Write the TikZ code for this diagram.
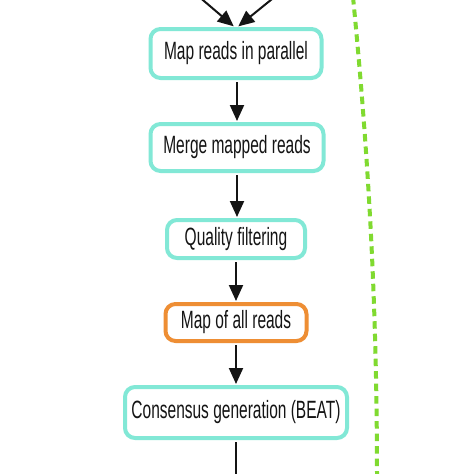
\documentclass[tikz,border=0pt]{standalone}
\usepackage{fontspec}
\setmainfont{Liberation Sans}[FakeStretch=0.62]
\usetikzlibrary{arrows.meta}
\definecolor{turq}{RGB}{130,232,214}
\definecolor{orng}{RGB}{238,142,52}
\definecolor{grn}{RGB}{128,218,48}
\definecolor{ink}{RGB}{20,20,20}
\begin{document}
\begin{tikzpicture}[x=1pt,y=-1pt,
  box/.style={draw=turq, line width=4pt, rounded corners=10pt, fill=white,
    inner sep=0pt, text=ink, font=\fontsize{25}{30}\selectfont},
  obox/.style={box, draw=orng},
  arr/.style={draw=ink, line width=2pt, -{Triangle[length=16pt,width=14pt]},
    shorten >=1pt, shorten <=2pt},
  plain/.style={draw=ink, line width=2pt, shorten <=2pt},
  guide/.style={draw=grn, line width=4pt, dash pattern=on 7.5pt off 5pt}]
\useasboundingbox (0,0) rectangle (474,474);
\fill[white] (0,0) rectangle (474,474);
\begin{scope}
\clip (0,0) rectangle (474,474);
\node[box, minimum width=171pt, minimum height=49pt] (b1) at (236,53.5) {Map reads in parallel};
\node[box, minimum width=173pt, minimum height=47pt] (b2) at (237,147.5) {Merge mapped reads};
\node[box, minimum width=138pt, minimum height=38pt] (b3) at (236,239) {Quality filtering};
\node[obox, minimum width=141pt, minimum height=37pt] (b4) at (236,322.5) {Map of all reads};
\node[box, minimum width=222pt, minimum height=51pt] (b5) at (236,412.5) {Consensus generation (BEAT)};
\coordinate (inL) at (197,-5);
\coordinate (inR) at (277,-5);
\coordinate (outB) at (236,480);
\draw[arr, shorten <=0pt] (inL) -- ([xshift=-1.5pt]b1.north);
\draw[arr, shorten <=0pt] (inR) -- ([xshift=1.5pt]b1.north);
\draw[arr] (b1.south -| b2.north) -- (b2.north);
\draw[arr] (b2.south) -- (b2.south |- b3.north);
\draw[arr] (b3.south) -- (b4.north);
\draw[arr] (b4.south) -- (b5.north);
\draw[plain] (b5.south) -- (outB);
\draw[guide] (353,-3) .. controls (368,150) and (377,300) .. (377,478);
\end{scope}
\end{tikzpicture}
\end{document}
